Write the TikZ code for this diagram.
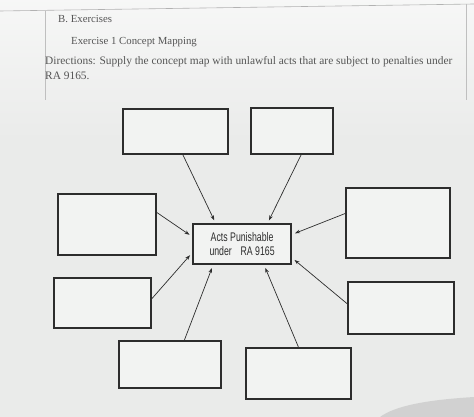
\documentclass[tikz,border=0pt]{standalone}
\usepackage{fontspec}
\setmainfont{Liberation Serif}
\newfontfamily\boxfont{Liberation Sans}
\usetikzlibrary{calc,arrows.meta}
\definecolor{paper}{RGB}{234,235,234}
\definecolor{ink}{RGB}{45,45,45}
\definecolor{print}{RGB}{85,85,85}
\tikzset{
  blank/.style={draw=ink,line width=1.8pt,fill=paper!60!white},
  hub/.style={draw=ink,line width=2.2pt,fill=paper!60!white,align=center,font=\boxfont\fontsize{12.5}{14.5}\selectfont,text=ink},
  link/.style={draw=ink,line width=0.7pt,-{Stealth[length=5pt,width=3.6pt]},shorten >=3pt},
  caption/.style={anchor=west,inner sep=0pt,text=print}
}
\begin{document}
\begin{tikzpicture}[x=1pt,y=-1pt]
\useasboundingbox (0,0) rectangle (474,417);
\shade[top color=paper!40!white,bottom color=paper] (0,0) rectangle (474,140);
\fill[paper] (0,140) rectangle (474,417);
% sheet edges
\draw[gray!60,line width=0.6pt] (0,11) -- (474,4);
\draw[gray!50,line width=0.5pt] (45,11) -- (45,100);
\draw[gray!50,line width=0.5pt] (466,4) -- (466,100);
% shadow bottom right
\fill[gray!55,opacity=0.5] (380,417) .. controls (395,406) and (425,400) .. (474,397) -- (474,417) -- cycle;
% texts
\node[caption,font=\fontsize{10.8}{13}\selectfont] (t1) at (58,19) {B. Exercises};
\node[caption,font=\fontsize{10.8}{13}\selectfont] (t2) at (71,42) {Exercise 1 Concept Mapping};
\node[caption,font=\fontsize{11.4}{14}\selectfont] (t3) at (45,62) {Directions: Supply the concept map with unlawful acts that are subject to penalties under};
\node[caption,font=\fontsize{11.4}{14}\selectfont] (t4) at (45,76) {RA 9165.};
% boxes
\node[blank,minimum width=105pt,minimum height=45pt,anchor=north west] (tl) at (122,108) {};
\node[blank,minimum width=82pt,minimum height=46pt,anchor=north west] (tr) at (250,107) {};
\node[blank,minimum width=98pt,minimum height=61pt,anchor=north west] (lm) at (57,193) {};
\node[blank,minimum width=104pt,minimum height=70pt,anchor=north west] (rm) at (345,187) {};
\node[blank,minimum width=97pt,minimum height=50pt,anchor=north west] (ll) at (53,277) {};
\node[blank,minimum width=106pt,minimum height=52pt,anchor=north west] (lr) at (347,281) {};
\node[blank,minimum width=102pt,minimum height=47pt,anchor=north west] (bl) at (118,340) {};
\node[blank,minimum width=105pt,minimum height=51pt,anchor=north west] (br) at (245,347) {};
\node[hub,minimum width=98pt,minimum height=40pt,inner sep=1pt,anchor=north west] (c) at (192,223) {\scalebox{0.7}[1]{Acts Punishable}\\\scalebox{0.7}[1]{under\quad RA 9165}};
% connectors
\draw[link] ($(tl.south west)!0.57!(tl.south east)$) -- ($(c.north west)!0.235!(c.north east)$);
\draw[link] ($(tr.south west)!0.61!(tr.south east)$) -- ($(c.north west)!0.755!(c.north east)$);
\draw[link] ($(lm.north east)!0.31!(lm.south east)$) -- ($(c.north west)!0.32!(c.south west)$);
\draw[link] ($(rm.north west)!0.37!(rm.south west)$) -- ($(c.north east)!0.27!(c.south east)$);
\draw[link] ($(ll.north east)!0.42!(ll.south east)$) -- ($(c.north west)!0.71!(c.south west)$);
\draw[link] ($(lr.north west)!0.42!(lr.south west)$) -- ($(c.north east)!0.83!(c.south east)$);
\draw[link] ($(bl.north west)!0.64!(bl.north east)$) -- ($(c.south west)!0.21!(c.south east)$);
\draw[link] ($(br.north west)!0.5!(br.north east)$) -- ($(c.south west)!0.72!(c.south east)$);
\end{tikzpicture}
\end{document}
